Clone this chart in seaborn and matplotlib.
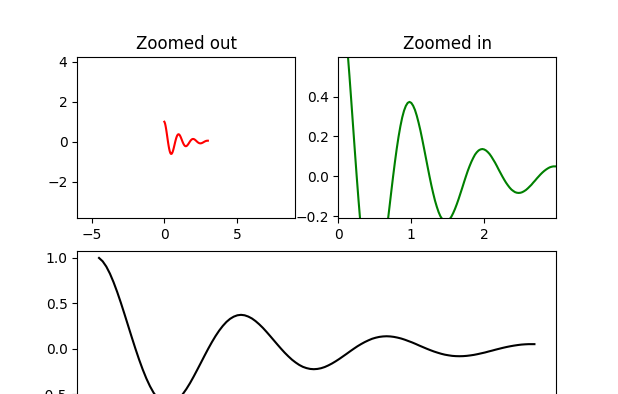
import matplotlib
matplotlib.use("Agg")
import matplotlib.pyplot as plt
import seaborn as sns

# damped oscillation (time, signal)
t = [0.000, 0.025, 0.050, 0.075, 0.100, 0.125, 0.150, 0.175, 0.200, 0.225,
     0.250, 0.275, 0.300, 0.325, 0.350, 0.375, 0.400, 0.425, 0.450, 0.475,
     0.500, 0.525, 0.550, 0.575, 0.600, 0.625, 0.650, 0.675, 0.700, 0.725,
     0.750, 0.775, 0.800, 0.825, 0.850, 0.875, 0.900, 0.925, 0.950, 0.975,
     1.000, 1.025, 1.050, 1.075, 1.100, 1.125, 1.150, 1.175, 1.200, 1.225,
     1.250, 1.275, 1.300, 1.325, 1.350, 1.375, 1.400, 1.425, 1.450, 1.475,
     1.500, 1.525, 1.550, 1.575, 1.600, 1.625, 1.650, 1.675, 1.700, 1.725,
     1.750, 1.775, 1.800, 1.825, 1.850, 1.875, 1.900, 1.925, 1.950, 1.975,
     2.000, 2.025, 2.050, 2.075, 2.100, 2.125, 2.150, 2.175, 2.200, 2.225,
     2.250, 2.275, 2.300, 2.325, 2.350, 2.375, 2.400, 2.425, 2.450, 2.475,
     2.500, 2.525, 2.550, 2.575, 2.600, 2.625, 2.650, 2.675, 2.700, 2.725,
     2.750, 2.775, 2.800, 2.825, 2.850, 2.875, 2.900, 2.925, 2.950, 2.975, 2.990]
signal = [1.000, 0.963, 0.905, 0.827, 0.732, 0.624, 0.506, 0.381, 0.253, 0.125,
          0.000, -0.119, -0.229, -0.328, -0.414, -0.486, -0.542, -0.583, -0.606, -0.614,
          -0.607, -0.584, -0.549, -0.501, -0.444, -0.379, -0.307, -0.231, -0.154, -0.076,
          0.000, 0.072, 0.139, 0.199, 0.251, 0.295, 0.329, 0.353, 0.368, 0.373,
          0.368, 0.354, 0.333, 0.304, 0.269, 0.230, 0.186, 0.140, 0.093, 0.046,
          0.000, -0.044, -0.084, -0.121, -0.152, -0.179, -0.200, -0.214, -0.223, -0.226,
          -0.223, -0.215, -0.202, -0.184, -0.163, -0.139, -0.113, -0.085, -0.057, -0.028,
          0.000, 0.027, 0.051, 0.073, 0.092, 0.109, 0.121, 0.130, 0.135, 0.137,
          0.135, 0.130, 0.122, 0.112, 0.099, 0.084, 0.069, 0.052, 0.034, 0.017,
          0.000, -0.016, -0.031, -0.044, -0.056, -0.066, -0.073, -0.079, -0.082, -0.083,
          -0.082, -0.079, -0.074, -0.068, -0.060, -0.051, -0.042, -0.031, -0.021, -0.010,
          0.000, 0.010, 0.019, 0.027, 0.034, 0.040, 0.045, 0.048, 0.050, 0.050, 0.050]

titles = ["Zoomed out", "Zoomed in"]

fig = plt.figure(figsize=(6.18, 3.94), dpi=100)
gs = fig.add_gridspec(2, 2, left=0.125, right=0.9, top=0.8546, bottom=-0.045,
                      hspace=0.2, wspace=0.2)

# -------------------------
# 1. Full view (bottom)
# -------------------------
ax1 = fig.add_subplot(gs[1, :])
sns.lineplot(x=t, y=signal, ax=ax1, color="k")
ax1.margins(0.05)

# -------------------------
# 2. Zoomed out
# -------------------------
ax2 = fig.add_subplot(gs[0, 0])
sns.lineplot(x=t, y=signal, ax=ax2, color="r")
ax2.margins(2, 2)
ax2.set_title(titles[0])

# -------------------------
# 3. Zoomed in
# -------------------------
ax3 = fig.add_subplot(gs[0, 1])
sns.lineplot(x=t, y=signal, ax=ax3, color="g")
ax3.margins(x=0, y=-0.25)
ax3.set_title(titles[1])

fig.savefig("out.png", dpi=100)
